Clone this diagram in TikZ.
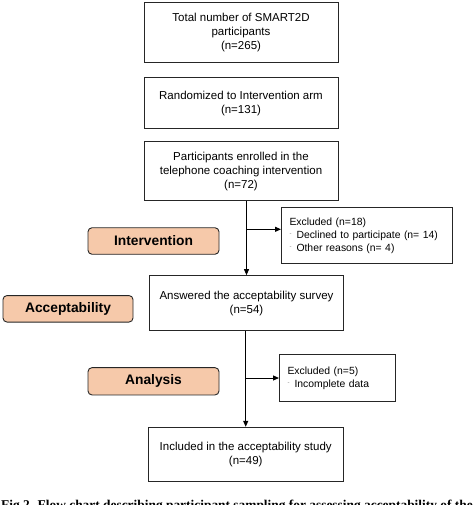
\documentclass[tikz,border=0pt]{standalone}
\usepackage{fontspec}
\setmainfont{Liberation Sans}
\newfontfamily\capfont{Liberation Serif}
\usetikzlibrary{arrows.meta}
\definecolor{peach}{HTML}{F6C9AA}
\definecolor{boxline}{HTML}{262626}
\tikzset{
  mainbox/.style={draw=boxline, line width=1pt, minimum width=194pt, align=center,
    font=\fontsize{11.5}{14}\selectfont, inner sep=0pt},
  exclbox/.style={draw=boxline, line width=1pt, align=left, anchor=west,
    font=\fontsize{10.4}{13}\selectfont, inner ysep=0pt, inner xsep=8pt, text width=#1},
  phase/.style={draw=boxline, line width=0.9pt, fill=peach, rounded corners=4pt,
    minimum width=131pt, minimum height=26.5pt, font=\fontsize{13.8}{16}\selectfont\bfseries},
  arr/.style={line width=1pt, -{Triangle[length=6pt,width=5pt]}}
}
\newcommand{\itemdash}{\makebox[7pt][l]{\raisebox{2.5pt}{\color{gray}\fontsize{6}{6}\selectfont -}}}
\begin{document}
\begin{tikzpicture}[x=1pt,y=-1pt]
\useasboundingbox[fill=white] (0,0) rectangle (474,505);
\clip (0,0) rectangle (474,505);

% Main flow
\node[mainbox, minimum height=60pt] (total) at (241,33) {Total number of SMART2D\\participants\\(n=265)};
\node[mainbox, minimum height=51pt] (rand) at (241,103.5) {Randomized to Intervention arm\\(n=131)};
\node[mainbox, minimum height=58.7pt] (enrol) at (241,171.3) {Participants enrolled in the\\telephone coaching intervention\\(n=72)};
\node[mainbox, minimum height=55.3pt] (answered) at (246.5,303.3) {Answered the acceptability survey\\(n=54)};
\node[mainbox, minimum width=195pt, minimum height=54.4pt] (incl) at (245.7,454.5) {Included in the acceptability study\\(n=49)};

% Excluded boxes
\node[exclbox=155pt, minimum height=56.3pt] (excl1) at (281,235.8)
  {Excluded (n=18)\\\itemdash Declined to participate (n= 14)\\\itemdash Other reasons (n= 4)};
\node[exclbox=99.7pt, minimum height=47.4pt] (excl2) at (279,378)
  {Excluded (n=5)\\\itemdash Incomplete data};

% Phases
\node[phase] (interv) at (153.5,241) {Intervention};
\node[phase, minimum width=130pt] (accept) at (68,308.8) {Acceptability};
\node[phase, minimum height=27.3pt] (analysis) at (153.5,381.3) {Analysis};

% Arrows
\draw[arr] (enrol.south -| answered) -- (answered.north);
\coordinate (b1) at (246.5,229.3);
\draw[arr] (b1) -- (b1 -| excl1.west);
\draw[arr] (answered.south -| incl) -- (incl.north);
\draw[arr] (excl2.west -| incl) -- (excl2.west);

% Caption (cut off)
\node[anchor=base west, inner sep=0pt, font=\capfont\fontsize{13.4}{15}\selectfont\bfseries] (cap) at (1,509)
  {Fig 2. Flow chart describing participant sampling for assessing acceptability of the telephone};
\end{tikzpicture}
\end{document}
